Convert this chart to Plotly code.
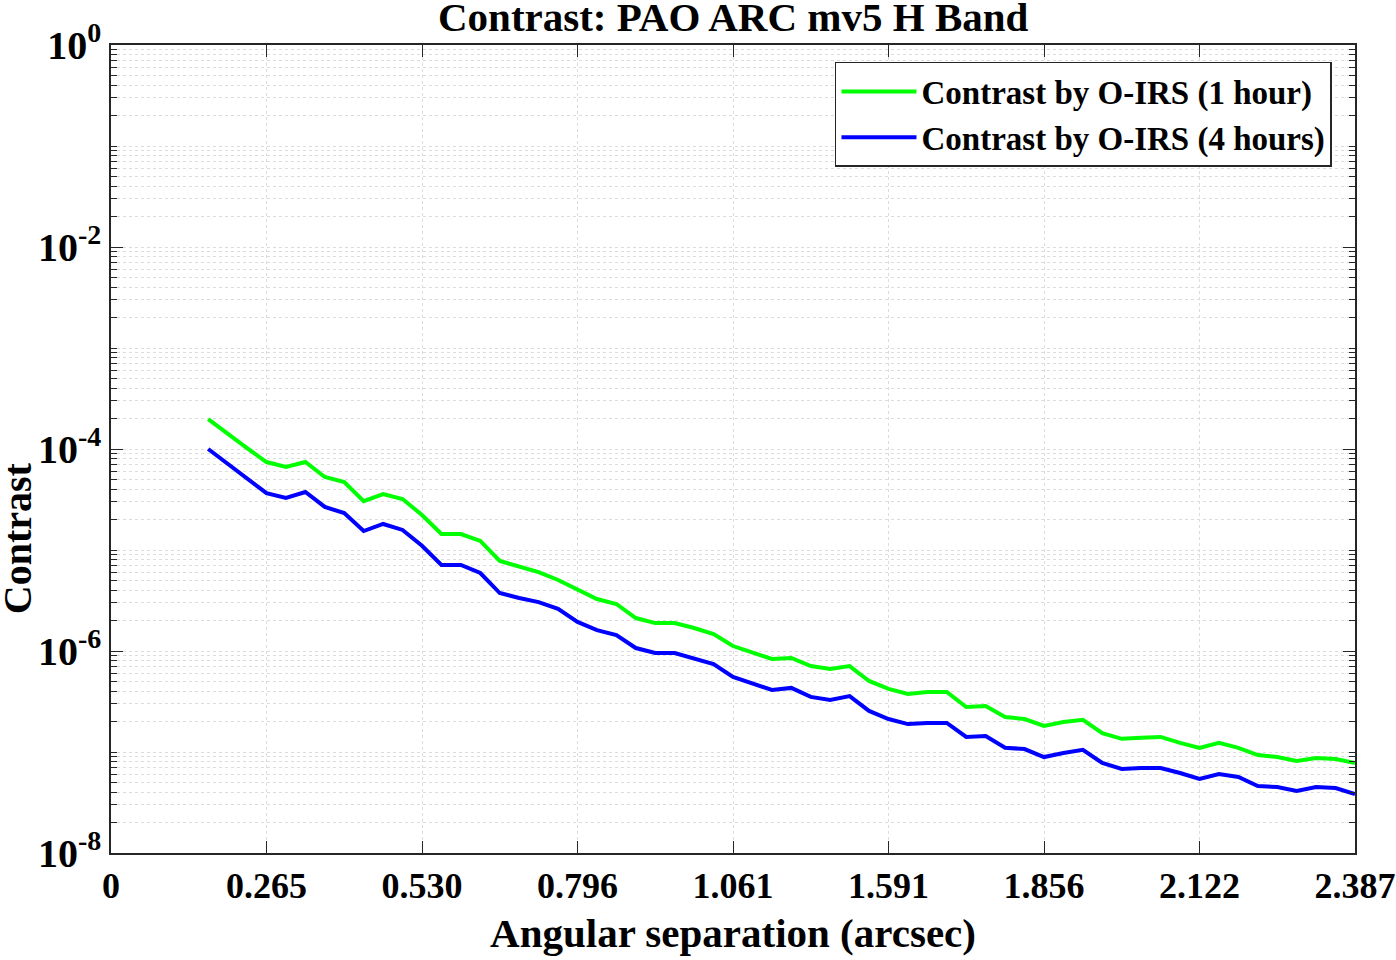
import plotly.graph_objects as go

# Sample index along the separation axis (ticks every 8 samples)
sample_index = list(range(5, 65))

tick_positions = [0, 8, 16, 24, 32, 40, 48, 56, 64]
tick_labels = ["0", "0.265", "0.530", "0.796", "1.061", "1.591", "1.856", "2.122", "2.387"]

contrast_1h = [
    1.98e-4, 1.41e-4, 1.02e-4, 7.43e-5, 6.64e-5, 7.43e-5, 5.28e-5, 4.71e-5, 3.05e-5, 3.58e-5,
    3.20e-5, 2.22e-5, 1.44e-5, 1.44e-5, 1.23e-5, 7.78e-6, 6.79e-6, 6.05e-6, 5.05e-6, 4.02e-6,
    3.27e-6, 2.92e-6, 2.12e-6, 1.89e-6, 1.89e-6, 1.69e-6, 1.47e-6, 1.12e-6, 9.55e-7, 8.34e-7,
    8.53e-7, 7.09e-7, 6.64e-7, 7.09e-7, 5.05e-7, 4.21e-7, 3.75e-7, 3.93e-7, 3.93e-7, 2.79e-7,
    2.85e-7, 2.22e-7, 2.12e-7, 1.81e-7, 1.98e-7, 2.08e-7, 1.54e-7, 1.35e-7, 1.38e-7, 1.41e-7,
    1.23e-7, 1.10e-7, 1.23e-7, 1.10e-7, 9.33e-8, 8.91e-8, 8.14e-8, 8.73e-8, 8.53e-8, 7.78e-8,
]

contrast_4h = [
    1.00e-4, 7.10e-5, 5.16e-5, 3.66e-5, 3.27e-5, 3.75e-5, 2.67e-5, 2.32e-5, 1.54e-5, 1.81e-5,
    1.58e-5, 1.10e-5, 7.10e-6, 7.10e-6, 5.92e-6, 3.75e-6, 3.35e-6, 3.05e-6, 2.61e-6, 1.94e-6,
    1.61e-6, 1.44e-6, 1.07e-6, 9.55e-7, 9.55e-7, 8.34e-7, 7.43e-7, 5.53e-7, 4.82e-7, 4.11e-7,
    4.31e-7, 3.51e-7, 3.27e-7, 3.58e-7, 2.55e-7, 2.12e-7, 1.89e-7, 1.94e-7, 1.94e-7, 1.41e-7,
    1.44e-7, 1.10e-7, 1.07e-7, 8.91e-8, 9.77e-8, 1.05e-7, 7.78e-8, 6.79e-8, 6.95e-8, 6.95e-8,
    6.19e-8, 5.40e-8, 6.05e-8, 5.65e-8, 4.60e-8, 4.50e-8, 4.11e-8, 4.50e-8, 4.40e-8, 3.84e-8,
]

y_major = [1e-8, 1e-6, 1e-4, 1e-2, 1e0]
y_major_labels = ["10<sup>-8</sup>", "10<sup>-6</sup>", "10<sup>-4</sup>", "10<sup>-2</sup>", "10<sup>0</sup>"]
y_minor = [k * 10.0 ** e for e in range(-8, 0) for k in range(1, 10) if not (k == 1 and e % 2 == 0)]

FONT = "Liberation Serif"
GRID = "#dcdcdc"

fig = go.Figure()
fig.add_trace(go.Scatter(x=sample_index, y=contrast_1h, mode="lines",
                         name="<b>Contrast by O-IRS (1 hour)</b>",
                         line=dict(color="#00FF00", width=4)))
fig.add_trace(go.Scatter(x=sample_index, y=contrast_4h, mode="lines",
                         name="<b>Contrast by O-IRS (4 hours)</b>",
                         line=dict(color="#0000FF", width=4)))

fig.update_layout(
    width=1396, height=960,
    margin=dict(l=111, r=41, t=45, b=107),
    paper_bgcolor="white", plot_bgcolor="white",
    font=dict(family=FONT, size=36, color="black"),
    showlegend=True,
    legend=dict(x=0.9815, y=0.979, xanchor="right", yanchor="top",
                bgcolor="white", bordercolor="#262626", borderwidth=1.5,
                font=dict(family=FONT, size=33, color="black"),
                itemwidth=75, tracegroupgap=0),
    xaxis=dict(range=[0, 64], tickmode="array", tickvals=tick_positions,
               ticktext=["<b>%s</b>" % t for t in tick_labels],
               ticks="inside", ticklen=12, tickwidth=1.2, tickcolor="#262626",
               showline=True, linecolor="#262626", linewidth=1.5, mirror="ticks",
               showgrid=True, gridcolor=GRID, griddash="dot", gridwidth=1,
               zeroline=False, automargin=False, ticklabeloverflow="allow",
               tickfont=dict(family=FONT, size=36, color="black"),
               title=dict(text="<b>Angular separation (arcsec)</b>",
                          font=dict(family=FONT, size=41, color="black"), standoff=13)),
    yaxis=dict(type="log", range=[-8, 0], tickmode="array", tickvals=y_major,
               ticktext=["<b>%s</b>" % t for t in y_major_labels],
               ticks="inside", ticklen=12, tickwidth=1.2, tickcolor="#262626",
               showline=True, linecolor="#262626", linewidth=1.5, mirror="ticks",
               showgrid=True, gridcolor=GRID, griddash="dot", gridwidth=1,
               zeroline=False, automargin=False, ticklabeloverflow="allow",
               tickfont=dict(family=FONT, size=40, color="black"),
               minor=dict(tickmode="array", tickvals=y_minor, ticks="inside", ticklen=6,
                          tickcolor="#262626", showgrid=True, gridcolor=GRID,
                          griddash="dot", gridwidth=1)),
    annotations=[
        dict(text="<b>Contrast: PAO ARC mv5 H Band</b>", xref="paper", yref="paper",
             x=0.5, y=1.0345, xanchor="center", yanchor="middle", showarrow=False,
             font=dict(family=FONT, size=41, color="black")),
        dict(text="<b>Contrast</b>", xref="paper", yref="paper", textangle=-90,
             x=-0.0745, y=0.39, xanchor="center", yanchor="middle", showarrow=False,
             font=dict(family=FONT, size=40, color="black")),
    ],
)

fig.write_html("out.html", config={"displayModeBar": False},
               post_script="document.body.style.margin='0';document.body.style.overflow='hidden';")
